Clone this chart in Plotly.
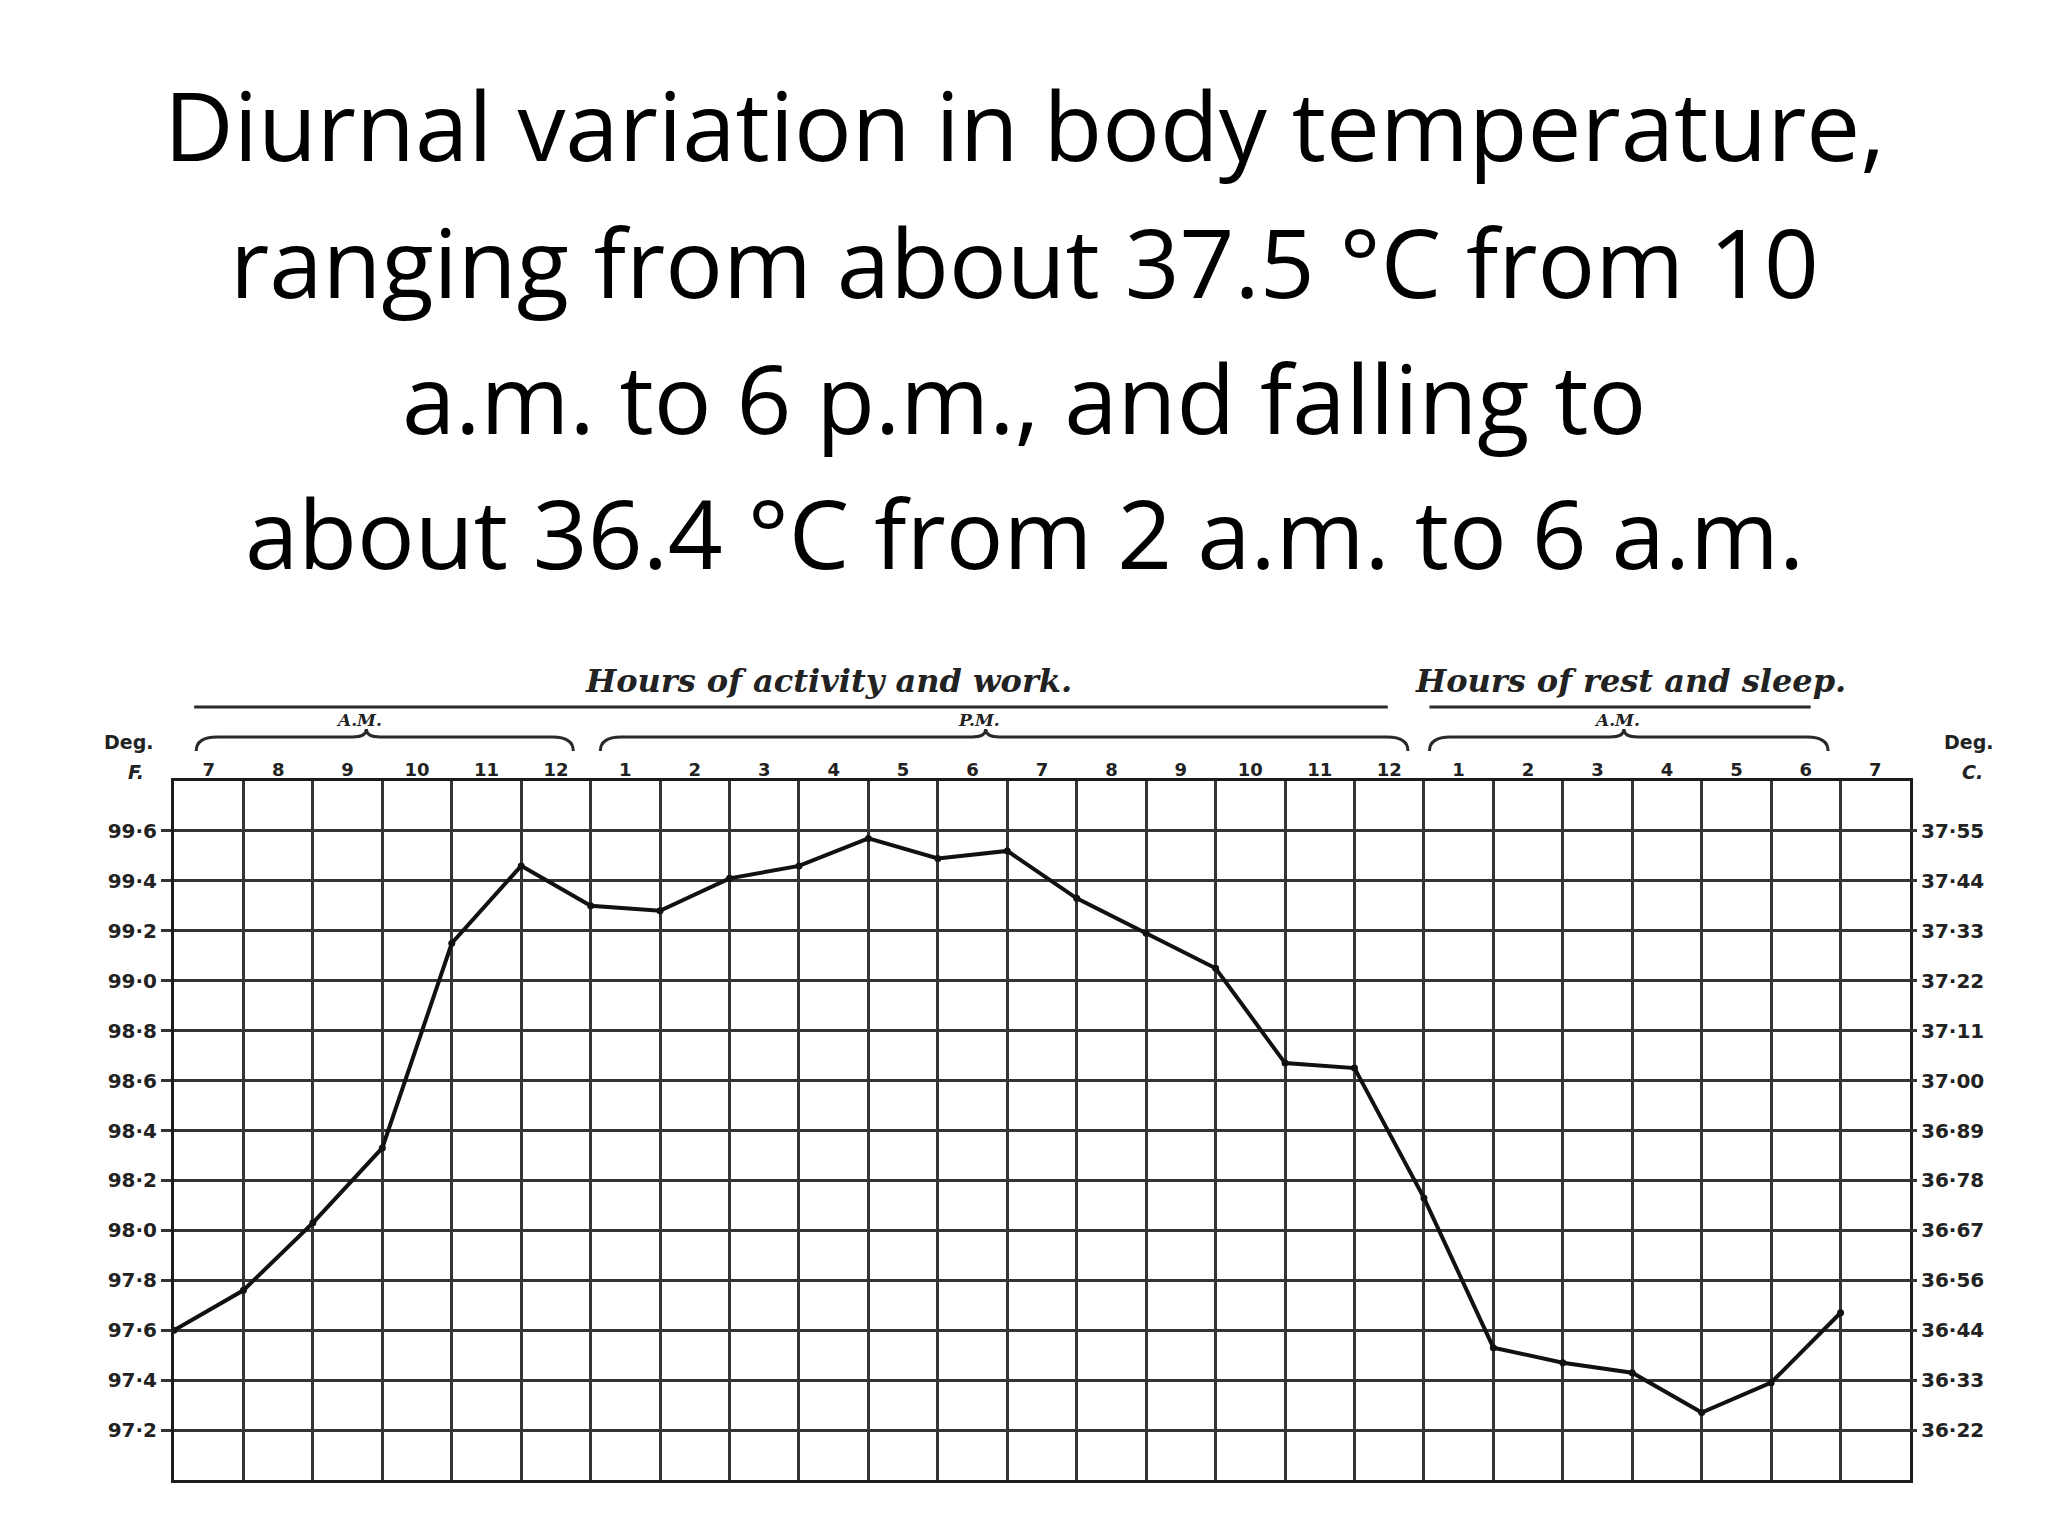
import plotly.graph_objects as go

# ---------------- data ----------------
title_lines = [
    "Diurnal variation in body temperature,",
    "ranging from about 37.5 °C from 10",
    "a.m. to 6 p.m., and falling to",
    "about 36.4 °C from 2 a.m. to 6 a.m.",
]
hour_labels = ["7", "8", "9", "10", "11", "12",
               "1", "2", "3", "4", "5", "6", "7", "8", "9", "10", "11", "12",
               "1", "2", "3", "4", "5", "6", "7"]
# temperature (deg F) read at each hourly grid line
temp_f = [97.60, 97.76, 98.03, 98.33, 99.15, 99.46, 99.30, 99.28, 99.41, 99.46,
          99.57, 99.49, 99.52, 99.33, 99.19, 99.05, 98.67, 98.65, 98.13, 97.53,
          97.47, 97.43, 97.27, 97.39, 97.67]
f_ticks = [99.6, 99.4, 99.2, 99.0, 98.8, 98.6, 98.4, 98.2, 98.0, 97.8, 97.6, 97.4, 97.2]
f_labels = ["99·6", "99·4", "99·2", "99·0", "98·8", "98·6", "98·4", "98·2",
            "98·0", "97·8", "97·6", "97·4", "97·2"]
c_labels = ["37·55", "37·44", "37·33", "37·22", "37·11", "37·00", "36·89",
            "36·78", "36·67", "36·56", "36·44", "36·33", "36·22"]
header_activity = "Hours of activity and work."
header_rest = "Hours of rest and sleep."
period_am = "A.M."
period_pm = "P.M."

# ---------------- layout geometry (pixels) ----------------
W, H = 2048, 1536
PL, PR, PT, PB = 174, 1910, 781, 1480


def xp(px):
    return (px - PL) / (PR - PL)


def yp(px):
    return (PB - px) / (PB - PT)


n_cols = len(hour_labels)
grid_x = list(range(len(temp_f)))
label_x = [i + 0.5 for i in range(n_cols)]

GRID = "#343434"
INK = "#1c1c1c"
tick_font = dict(family="DejaVu Sans", size=20, color="#222", weight="bold")

fig = go.Figure()
fig.add_trace(go.Scatter(
    x=grid_x, y=temp_f, mode="lines+markers",
    line=dict(color="#111", width=4),
    marker=dict(color="#111", size=7),
    showlegend=False, hoverinfo="skip"))
# helper trace for top / right axes
fig.add_trace(go.Scatter(
    x=label_x, y=[None] * n_cols, xaxis="x2", yaxis="y2",
    mode="markers", showlegend=False, hoverinfo="skip"))

fig.update_layout(
    width=W, height=H,
    margin=dict(l=PL, r=W - PR, t=PT, b=H - PB, pad=0),
    paper_bgcolor="white", plot_bgcolor="white",
    xaxis=dict(range=[0, n_cols], tickvals=list(range(1, n_cols)),
               showticklabels=False, ticks="", showgrid=True,
               gridcolor=GRID, gridwidth=2.5, zeroline=False,
               showline=True, linecolor=INK, linewidth=3, mirror=True),
    yaxis=dict(range=[97.0, 99.8], tickvals=f_ticks, ticktext=f_labels,
               ticks="outside", ticklen=10, tickwidth=2.5, tickcolor=GRID,
               tickfont=tick_font, showgrid=True, gridcolor=GRID,
               gridwidth=2.5, zeroline=False, showline=True,
               linecolor=INK, linewidth=3, mirror=True),
    xaxis2=dict(overlaying="x", anchor="y", side="top", range=[0, n_cols],
                tickvals=label_x, ticktext=hour_labels, ticks="",
                showgrid=False, zeroline=False, showline=False,
                tickfont=dict(family="DejaVu Sans", size=18, color="#222",
                              weight="bold")),
    yaxis2=dict(overlaying="y", anchor="x", side="right",
                range=[97.0, 99.8], tickvals=f_ticks, ticktext=c_labels,
                ticks="outside", ticklen=6, tickwidth=2.5, tickcolor=GRID,
                tickfont=tick_font, showgrid=False, zeroline=False,
                showline=False),
)

# ---------------- title ----------------
title_centers = [123, 260, 396, 531]
for line, cy in zip(title_lines, title_centers):
    fig.add_annotation(text=line, xref="paper", yref="paper",
                       x=xp(1024), y=yp(cy), xanchor="center",
                       yanchor="middle", showarrow=False,
                       font=dict(family="Open Sans", size=96, color="black"))

# ---------------- chart header ----------------
hdr_font = dict(family="DejaVu Serif", size=32, color="#222",
                style="italic", weight="bold")
small_font = dict(family="DejaVu Serif", size=17, color="#222",
                  style="italic", weight="bold")
fig.add_annotation(text=header_activity, xref="x", yref="paper",
                   x=9.42, y=yp(681), xanchor="center", yanchor="middle",
                   showarrow=False, font=hdr_font)
fig.add_annotation(text=header_rest, xref="x", yref="paper",
                   x=20.97, y=yp(681), xanchor="center", yanchor="middle",
                   showarrow=False, font=hdr_font)

for x0, x1 in [(0.29, 17.48), (18.08, 23.57)]:
    fig.add_shape(type="line", xref="x", yref="paper", x0=x0, x1=x1,
                  y0=yp(707), y1=yp(707), line=dict(color="#2a2a2a", width=3))

yl, ye, yh = yp(737), yp(751), yp(729)
for x0, x1, xc, lab in [(0.32, 5.75, 2.77, period_am),
                        (6.14, 17.77, 11.69, period_pm),
                        (18.08, 23.82, 20.88, period_am)]:
    path = (f"M {x0},{ye} Q {x0},{yl} {x0 + 0.3},{yl} "
            f"L {xc - 0.2},{yl} Q {xc},{yl} {xc},{yh} "
            f"Q {xc},{yl} {xc + 0.2},{yl} "
            f"L {x1 - 0.3},{yl} Q {x1},{yl} {x1},{ye}")
    fig.add_shape(type="path", xref="x", yref="paper", path=path,
                  line=dict(color="#2a2a2a", width=3))
    fig.add_annotation(text=lab, xref="x", yref="paper", x=xc - 0.1,
                       y=yp(720), xanchor="center", yanchor="middle",
                       showarrow=False, font=small_font)

deg_font = dict(family="DejaVu Sans", size=19, color="#222", weight="bold")
for txt, x, y in [("Deg.", 128, 742), ("<i>F.</i>", 136, 772),
                  ("Deg.", 1968, 742), ("<i>C.</i>", 1972, 772)]:
    fig.add_annotation(text=txt, xref="paper", yref="paper", x=xp(x),
                       y=yp(y), xanchor="center", yanchor="middle",
                       showarrow=False, font=deg_font)

fig.write_html("out.html")
